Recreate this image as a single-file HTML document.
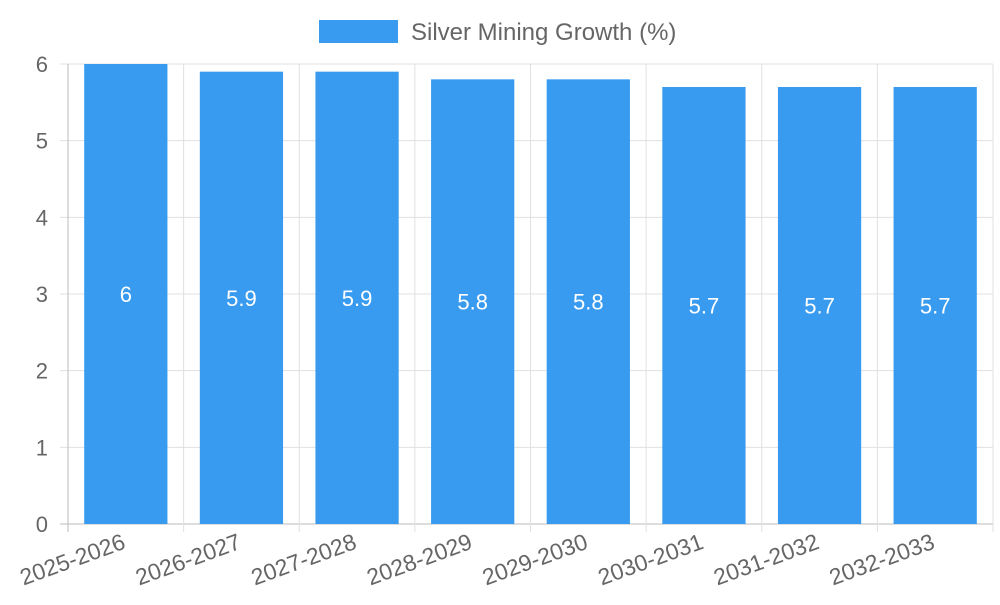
<!DOCTYPE html>
<html><head><meta charset="utf-8"><style>
body{margin:0;background:#fff;font-family:"Liberation Sans",sans-serif}
</style></head><body>
<svg id="c" width="1000" height="600" xmlns="http://www.w3.org/2000/svg">
<g>
<rect x="319" y="20" width="79" height="23" fill="#389bf0"/>
<text x="411" y="40" font-size="24" fill="#666" font-family="Liberation Sans, sans-serif">Silver Mining Growth (%)</text>
</g>
<g id="grid"></g><g id="bars"></g><g id="labels"></g>
</svg>
<script>
const categories=["2025-2026","2026-2027","2027-2028","2028-2029","2029-2030","2030-2031","2031-2032","2032-2033"];
const values=[6,5.9,5.9,5.8,5.8,5.7,5.7,5.7];
const yTicks=[0,1,2,3,4,5,6];
const L=68,R=993,T=64,B=524,yMax=6;
const NS="http://www.w3.org/2000/svg";
const bw=(R-L)/categories.length;
const y=v=>B-(v/yMax)*(B-T);
const x=i=>L+i*bw;
const grid=document.getElementById('grid'),bars=document.getElementById('bars'),labels=document.getElementById('labels');
function mk(tag,attrs,parent,text){const e=document.createElementNS(NS,tag);for(const k in attrs)e.setAttribute(k,attrs[k]);if(text!==undefined)e.textContent=text;parent.appendChild(e);return e;}
yTicks.forEach(t=>{
 const l=mk('line',{x1:L-8,x2:R,y1:y(t),y2:y(t),stroke:t===0?'#bbb':'#e0e0e0','stroke-width':1},grid);
 
 
 const tx=mk('text',{x:L-20,y:y(t)+8,'text-anchor':'end','font-size':22,fill:'#666','font-family':'Liberation Sans, sans-serif'},labels,String(t));
 
 
});
for(let i=0;i<=categories.length;i++){
 const l=mk('line',{x1:x(i),x2:x(i),y1:T,y2:B+8,stroke:i===0?'#bbb':'#e0e0e0','stroke-width':1},grid);
 
 
}
categories.forEach((c,i)=>{
 const cx=x(i)+bw/2,w=bw*0.72,v=values[i];
 const r=mk('rect',{x:cx-w/2,y:y(v),width:w,height:B-y(v),fill:'#389bf0'},bars);
 
 
 const vt=mk('text',{x:cx,y:(y(v)+B)/2+8,'text-anchor':'middle','font-size':22,fill:'#fff','font-family':'Liberation Sans, sans-serif'},labels,String(v));
 
 
 const xt=mk('text',{x:cx+1,y:B+24,'text-anchor':'end','font-size':23,fill:'#666','font-family':'Liberation Sans, sans-serif',transform:`rotate(-20 ${cx+1} ${B+24})`},labels,c);
 
 
});
</script>
</body></html>
